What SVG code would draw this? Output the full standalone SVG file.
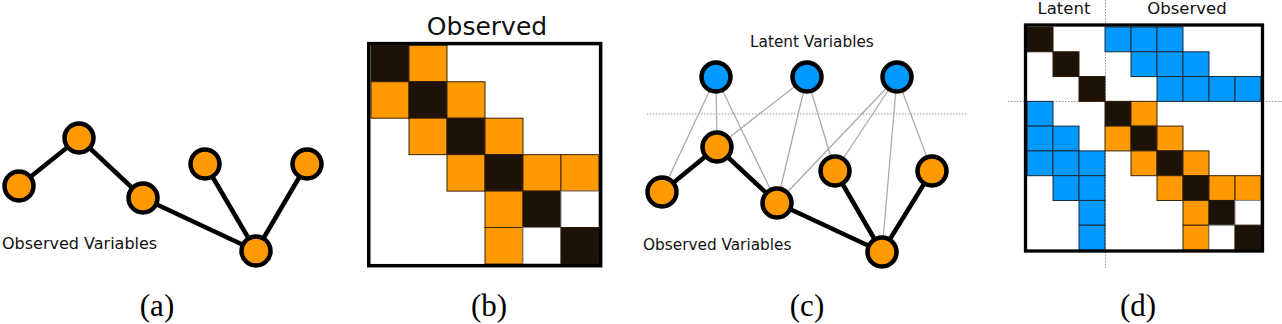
<svg xmlns="http://www.w3.org/2000/svg" width="1282" height="324" viewBox="0 0 1282 324">
<style>
.obs{fill:#ff9900;stroke:#000;stroke-width:4.5}
.lat{fill:#0099ff;stroke:#000;stroke-width:4.5}
.edge{stroke:#000;stroke-width:4.5;fill:none}
.thin{stroke:#aaaaaa;stroke-width:1.3;fill:none}
.dot{stroke:#999;stroke-width:1;stroke-dasharray:1.5 1.5;fill:none}
.lbl{font-family:"DejaVu Sans",sans-serif;fill:#111}
.cap{font-family:"Liberation Serif",serif;font-size:31px;fill:#000;text-anchor:middle}
.D{fill:#1e1207;stroke:#2a1a08;stroke-width:1}
.O{fill:#ff9900;stroke:#3a2408;stroke-width:1}
.B{fill:#0099ff;stroke:#1a2a3a;stroke-width:1}
.W{fill:#fff;stroke:#888;stroke-width:1}
.box{fill:none;stroke:#000}
</style>

<!-- Panel (a) -->
<g id="a-edges">
<line class="edge" x1="19" y1="186" x2="79" y2="138"/>
<line class="edge" x1="79" y1="138" x2="143" y2="198"/>
<line class="edge" x1="143" y1="198" x2="256" y2="251"/>
<line class="edge" x1="205" y1="164" x2="256" y2="251"/>
<line class="edge" x1="307" y1="164" x2="256" y2="251"/>
</g>
<g id="a-n1"><circle class="obs" cx="19" cy="186" r="14.5"/></g>
<g id="a-n2"><circle class="obs" cx="79" cy="138" r="14.5"/></g>
<g id="a-n3"><circle class="obs" cx="143" cy="198" r="14.5"/></g>
<g id="a-n4"><circle class="obs" cx="205" cy="164" r="14.5"/></g>
<g id="a-n5"><circle class="obs" cx="307" cy="164" r="14.5"/></g>
<g id="a-n6"><circle class="obs" cx="256" cy="251" r="14.5"/></g>
<text class="lbl" x="2" y="249" font-size="16">Observed Variables</text>
<text class="cap" x="157" y="316">(a)</text>

<!-- Panel (b) -->
<g id="b-matrix">
<text class="lbl" x="487" y="35" font-size="25" text-anchor="middle">Observed</text>
<rect class="D" x="371" y="45.3" width="38" height="36.45"/>
<rect class="O" x="409" y="45.3" width="38" height="36.45"/>
<rect class="O" x="371" y="81.75" width="38" height="36.45"/>
<rect class="D" x="409" y="81.75" width="38" height="36.45"/>
<rect class="O" x="447" y="81.75" width="38" height="36.45"/>
<rect class="O" x="409" y="118.2" width="38" height="36.45"/>
<rect class="D" x="447" y="118.2" width="38" height="36.45"/>
<rect class="O" x="485" y="118.2" width="38" height="36.45"/>
<rect class="O" x="447" y="154.65" width="38" height="36.45"/>
<rect class="D" x="485" y="154.65" width="38" height="36.45"/>
<rect class="O" x="523" y="154.65" width="38" height="36.45"/>
<rect class="O" x="561" y="154.65" width="38" height="36.45"/>
<rect class="O" x="485" y="191.1" width="38" height="36.45"/>
<rect class="D" x="523" y="191.1" width="38" height="36.45"/>
<rect class="W" x="561" y="191.1" width="38" height="36.45"/>
<rect class="O" x="485" y="227.55" width="38" height="36.45"/>
<rect class="W" x="523" y="227.55" width="38" height="36.45"/>
<rect class="D" x="561" y="227.55" width="38" height="36.45"/>
<rect class="box" x="368.75" y="43.6" width="231.9" height="222.1" stroke-width="3.5"/>
</g>
<text class="cap" x="489" y="316">(b)</text>

<!-- Panel (c) -->
<g id="c-connectors">
<line class="dot" x1="647" y1="114" x2="968" y2="114"/>
<line class="thin" x1="716" y1="77" x2="662" y2="192"/>
<line class="thin" x1="716" y1="77" x2="717" y2="147"/>
<line class="thin" x1="716" y1="77" x2="777" y2="203"/>
<line class="thin" x1="807" y1="77" x2="717" y2="147"/>
<line class="thin" x1="807" y1="77" x2="777" y2="203"/>
<line class="thin" x1="807" y1="77" x2="835" y2="171"/>
<line class="thin" x1="897" y1="77" x2="777" y2="203"/>
<line class="thin" x1="897" y1="77" x2="835" y2="171"/>
<line class="thin" x1="897" y1="77" x2="882" y2="252"/>
<line class="thin" x1="897" y1="77" x2="932" y2="171"/>
<line class="edge" x1="662" y1="192" x2="717" y2="147"/>
<line class="edge" x1="717" y1="147" x2="777" y2="203"/>
<line class="edge" x1="777" y1="203" x2="882" y2="252"/>
<line class="edge" x1="835" y1="171" x2="882" y2="252"/>
<line class="edge" x1="932" y1="171" x2="882" y2="252"/>
</g>
<g id="c-l1"><circle class="lat" cx="716" cy="77" r="14.5"/></g>
<g id="c-l2"><circle class="lat" cx="807" cy="77" r="14.5"/></g>
<g id="c-l3"><circle class="lat" cx="897" cy="77" r="14.5"/></g>
<g id="c-o1"><circle class="obs" cx="662" cy="192" r="14.5"/></g>
<g id="c-o2"><circle class="obs" cx="717" cy="147" r="14.5"/></g>
<g id="c-o3"><circle class="obs" cx="777" cy="203" r="14.5"/></g>
<g id="c-o4"><circle class="obs" cx="835" cy="171" r="14.5"/></g>
<g id="c-o5"><circle class="obs" cx="932" cy="171" r="14.5"/></g>
<g id="c-o6"><circle class="obs" cx="882" cy="252" r="14.5"/></g>
<text class="lbl" x="750" y="47" font-size="15.3">Latent Variables</text>
<text class="lbl" x="643" y="250" font-size="15.3">Observed Variables</text>
<text class="cap" x="807" y="316">(c)</text>

<!-- Panel (d) -->
<g id="d-matrix">
<line class="dot" x1="1105.5" y1="0" x2="1105.5" y2="268"/>
<line class="dot" x1="1008" y1="101.5" x2="1282" y2="101.5"/>
<text class="lbl" x="1064" y="14" font-size="16.5" text-anchor="middle">Latent</text>
<text class="lbl" x="1187" y="14" font-size="16.5" text-anchor="middle">Observed</text>
<rect class="D" x="1027" y="27" width="26" height="24.78"/>
<rect class="B" x="1105" y="27" width="26" height="24.78"/>
<rect class="B" x="1131" y="27" width="26" height="24.78"/>
<rect class="B" x="1157" y="27" width="26" height="24.78"/>
<rect class="D" x="1053" y="51.78" width="26" height="24.78"/>
<rect class="B" x="1131" y="51.78" width="26" height="24.78"/>
<rect class="B" x="1157" y="51.78" width="26" height="24.78"/>
<rect class="B" x="1183" y="51.78" width="26" height="24.78"/>
<rect class="D" x="1079" y="76.56" width="26" height="24.78"/>
<rect class="B" x="1157" y="76.56" width="26" height="24.78"/>
<rect class="B" x="1183" y="76.56" width="26" height="24.78"/>
<rect class="B" x="1209" y="76.56" width="26" height="24.78"/>
<rect class="B" x="1235" y="76.56" width="26" height="24.78"/>
<rect class="B" x="1027" y="101.34" width="26" height="24.78"/>
<rect class="D" x="1105" y="101.34" width="26" height="24.78"/>
<rect class="O" x="1131" y="101.34" width="26" height="24.78"/>
<rect class="B" x="1027" y="126.12" width="26" height="24.78"/>
<rect class="B" x="1053" y="126.12" width="26" height="24.78"/>
<rect class="O" x="1105" y="126.12" width="26" height="24.78"/>
<rect class="D" x="1131" y="126.12" width="26" height="24.78"/>
<rect class="O" x="1157" y="126.12" width="26" height="24.78"/>
<rect class="B" x="1027" y="150.9" width="26" height="24.78"/>
<rect class="B" x="1053" y="150.9" width="26" height="24.78"/>
<rect class="B" x="1079" y="150.9" width="26" height="24.78"/>
<rect class="O" x="1131" y="150.9" width="26" height="24.78"/>
<rect class="D" x="1157" y="150.9" width="26" height="24.78"/>
<rect class="O" x="1183" y="150.9" width="26" height="24.78"/>
<rect class="B" x="1053" y="175.68" width="26" height="24.78"/>
<rect class="B" x="1079" y="175.68" width="26" height="24.78"/>
<rect class="O" x="1157" y="175.68" width="26" height="24.78"/>
<rect class="D" x="1183" y="175.68" width="26" height="24.78"/>
<rect class="O" x="1209" y="175.68" width="26" height="24.78"/>
<rect class="O" x="1235" y="175.68" width="26" height="24.78"/>
<rect class="B" x="1079" y="200.46" width="26" height="24.78"/>
<rect class="O" x="1183" y="200.46" width="26" height="24.78"/>
<rect class="D" x="1209" y="200.46" width="26" height="24.78"/>
<rect class="W" x="1235" y="200.46" width="26" height="24.78"/>
<rect class="B" x="1079" y="225.24" width="26" height="24.78"/>
<rect class="O" x="1183" y="225.24" width="26" height="24.78"/>
<rect class="W" x="1209" y="225.24" width="26" height="24.78"/>
<rect class="D" x="1235" y="225.24" width="26" height="24.78"/>
<rect class="box" x="1025.5" y="25" width="237" height="226" stroke-width="3.3"/>
</g>
<text class="cap" x="1138" y="316">(d)</text>
</svg>
